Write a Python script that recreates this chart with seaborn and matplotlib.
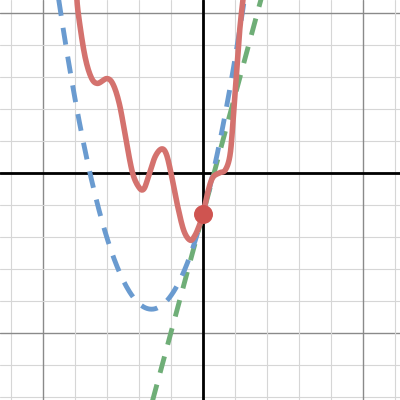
import numpy as np
import seaborn as sns
import matplotlib.pyplot as plt

sns.set_style("white")

# red curve samples
red_x = [-3.95, -3.9, -3.7, -3.5, -3.3, -3.0, -2.8, -2.6, -2.4, -2.2, -2.0, -1.85, -1.7, -1.5, -1.3, -1.15,
         -1.0, -0.8, -0.6, -0.4, -0.25, -0.1, 0.0, 0.15, 0.3, 0.5, 0.7, 0.85, 0.95, 1.05, 1.15, 1.27]
red_y = [5.6, 5.0, 3.7, 3.0, 2.8, 2.95, 2.75, 2.1, 1.0, 0.0, -0.45, -0.5, -0.1, 0.5, 0.75, 0.6,
         0.0, -1.0, -1.8, -2.1, -1.95, -1.6, -1.28, -0.6, -0.15, 0.0, 0.1, 0.6, 1.8, 3.2, 4.5, 5.6]
# Taylor approximations
lin_coef = [3.7, -1.28]          # slope, intercept
quad_coef = [1.15, 3.7, -1.28]   # a, b, c
point = (0.0, -1.28)

# Catmull-Rom smoothing of samples
def smooth(xs, ys, n=12):
    P = np.column_stack([xs, ys])
    P = np.vstack([P[0], P, P[-1]])
    out = []
    for i in range(1, len(P) - 2):
        p0, p1, p2, p3 = P[i-1], P[i], P[i+1], P[i+2]
        for t in np.linspace(0, 1, n, endpoint=False):
            t2, t3 = t*t, t*t*t
            out.append(0.5*((2*p1) + (-p0+p2)*t + (2*p0-5*p1+4*p2-p3)*t2 + (-p0+3*p1-3*p2+p3)*t3))
    out.append(P[-2])
    out = np.array(out)
    return out[:, 0], out[:, 1]

fig = plt.figure(figsize=(4, 4), dpi=100)
ax = fig.add_axes([0, 0, 1, 1])
xmin, xmax = -203/32, 197/32
ymin, ymax = -227/32, 173/32
ax.set_xlim(xmin, xmax); ax.set_ylim(ymin, ymax)

for v in range(-7, 8):
    major = v % 5 == 0
    c = "#8a8a8a" if major else "#d6d6d6"
    lw = 1.0 if major else 0.8
    ax.axvline(v, color=c, lw=lw, zorder=0)
    ax.axhline(v, color=c, lw=lw, zorder=0)
ax.axvline(0, color="black", lw=2, zorder=1)
ax.axhline(0, color="black", lw=2, zorder=1)

xs = np.linspace(xmin, xmax, 400)
sns.lineplot(x=xs, y=np.polyval(lin_coef, xs), ax=ax, color="#6fae77", lw=3.5, dashes=(3.5, 2.5), zorder=3)
sns.lineplot(x=xs, y=np.polyval(quad_coef, xs), ax=ax, color="#6a9bd0", lw=3.5, dashes=(3.5, 2.5), zorder=3)
sx, sy = smooth(red_x, red_y)
ax.plot(sx, sy, color="#d4726e", lw=4, solid_capstyle="round", zorder=4)
ax.scatter([point[0]], [point[1]], s=160, color="#cf5450", zorder=5)

ax.set_xticks([]); ax.set_yticks([])
for s in ax.spines.values():
    s.set_visible(False)
fig.savefig("out.png", dpi=100)
